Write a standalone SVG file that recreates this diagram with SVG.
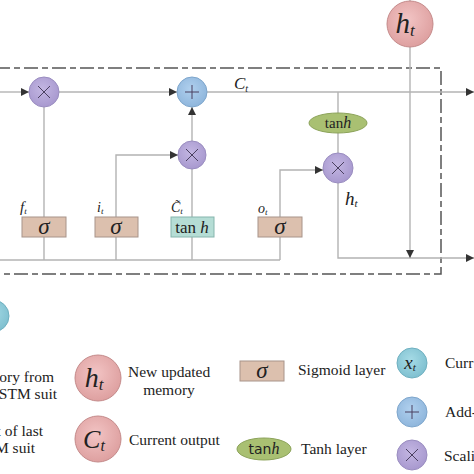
<svg xmlns="http://www.w3.org/2000/svg" width="474" height="474" viewBox="0 0 474 474">
<style>
.ln{fill:none;stroke:#b3b3b3;stroke-width:1.4}
.dash{fill:none;stroke:#555;stroke-width:1.5;stroke-dasharray:14 4 6 4}
.mul{fill:url(#gMul);stroke:#9a8dc0;stroke-width:1}
.add{fill:url(#gAdd);stroke:#7ea6cc;stroke-width:1}
.pink{fill:url(#gPink);stroke:#c48a8a;stroke-width:1}
.teal{fill:url(#gTeal);stroke:#6fb0c0;stroke-width:1}
.sig{fill:#dcc0ae;stroke:#a8948a;stroke-width:1}
.tb{fill:#b5ddd5;stroke:#86b5ad;stroke-width:1}
.el{fill:#a9c072;stroke:#8ca35a;stroke-width:1}
.op{fill:none;stroke:#4a4060;stroke-width:1}
.serif{font-family:"Liberation Serif","DejaVu Serif",serif;fill:#222}
.it{font-style:italic}
.lg{font-family:"Liberation Serif","DejaVu Serif",serif;font-size:15.5px;fill:#222}
</style>
<defs>
<marker id="ah" viewBox="0 0 8 8" refX="8" refY="4" markerWidth="8" markerHeight="8" markerUnits="userSpaceOnUse" orient="auto">
<path d="M0,0 L8,4 L0,8 z" fill="#333"/>
</marker>
<radialGradient id="gMul" cx="0.45" cy="0.4" r="0.6"><stop offset="0" stop-color="#c3b6e2"/><stop offset="1" stop-color="#a899cf"/></radialGradient>
<radialGradient id="gAdd" cx="0.45" cy="0.4" r="0.6"><stop offset="0" stop-color="#b0d0ee"/><stop offset="1" stop-color="#8fb6dc"/></radialGradient>
<radialGradient id="gPink" cx="0.45" cy="0.4" r="0.6"><stop offset="0" stop-color="#f2c4c4"/><stop offset="1" stop-color="#dea0a0"/></radialGradient>
<radialGradient id="gTeal" cx="0.45" cy="0.4" r="0.6"><stop offset="0" stop-color="#a6dbe6"/><stop offset="1" stop-color="#7fc0d0"/></radialGradient>
</defs>

<rect width="474" height="474" fill="#fff"/>

<path class="dash" d="M-4,68 H441 V274 H-4"/>

<g id="connectors">
<path class="ln" d="M0,92 H29" marker-end="url(#ah)"/>
<path class="ln" d="M59,92 H177" marker-end="url(#ah)"/>
<path class="ln" d="M207,92 H474" marker-end="url(#ah)"/>
<path class="ln" d="M44,107 V260"/>
<path class="ln" d="M0,260 H280"/>
<path class="ln" d="M116,260 V155 H178" marker-end="url(#ah)"/>
<path class="ln" d="M192,260 V169"/>
<path class="ln" d="M192,141 V107" marker-end="url(#ah)"/>
<path class="ln" d="M280,260 V170 H323" marker-end="url(#ah)"/>
<path class="ln" d="M338,92 V153"/>
<path class="ln" d="M338,183 V258 H474" marker-end="url(#ah)"/>
<path class="ln" d="M410,0 V2"/>
<path class="ln" d="M410,47 V258" marker-end="url(#ah)"/>
</g>

<g id="mul1"><circle class="mul" cx="44" cy="92" r="15"/><path class="op" d="M38,86 L50,98 M50,86 L38,98"/></g>
<g id="add1"><circle class="add" cx="192" cy="92" r="15"/><path class="op" d="M185,92 H199 M192,85 V99"/></g>
<g id="mul2"><circle class="mul" cx="192" cy="155" r="14"/><path class="op" d="M186,149 L198,161 M198,149 L186,161"/></g>
<g id="mul3"><circle class="mul" cx="338" cy="168" r="15"/><path class="op" d="M332,162 L344,174 M344,162 L332,174"/></g>

<g id="tanh-ellipse"><ellipse class="el" cx="338" cy="123" rx="29" ry="10"/>
<text class="serif" x="338" y="128" text-anchor="middle" font-size="15">tan<tspan class="it" font-size="16">h</tspan></text></g>

<g id="ht-top"><circle class="pink" cx="410" cy="24" r="23"/>
<text class="serif it" x="405" y="33" text-anchor="middle" font-size="29">h<tspan font-size="17" dy="3">t</tspan></text></g>

<g id="sig-f"><rect class="sig" x="22" y="217" width="44" height="20"/><text class="serif it" x="44" y="234" text-anchor="middle" font-size="23">σ</text></g>
<g id="sig-i"><rect class="sig" x="95" y="217" width="43" height="20"/><text class="serif it" x="116" y="234" text-anchor="middle" font-size="23">σ</text></g>
<g id="tanh-box"><rect class="tb" x="171" y="217" width="43" height="20"/><text class="serif" x="192" y="233" text-anchor="middle" font-size="17">tan <tspan class="it">h</tspan></text></g>
<g id="sig-o"><rect class="sig" x="258" y="217" width="44" height="20"/><text class="serif it" x="280" y="234" text-anchor="middle" font-size="23">σ</text></g>

<g id="labels">
<text class="serif it" x="234" y="89" font-size="17">C<tspan font-size="10" dy="3">t</tspan></text>
<text class="serif it" x="20" y="212" font-size="15">f<tspan font-size="9" dy="2">t</tspan></text>
<text class="serif it" x="97" y="212" font-size="14">i<tspan font-size="9" dy="2">t</tspan></text>
<text class="serif it" x="171" y="212" font-size="14">C̃<tspan font-size="9" dy="2">t</tspan></text>
<text class="serif it" x="258" y="213" font-size="14">o<tspan font-size="9" dy="2">t</tspan></text>
<text class="serif it" x="345" y="205" font-size="19">h<tspan font-size="11" dy="2">t</tspan></text>
</g>

<g id="legend">
<g id="lg-teal-partial"><circle class="teal" cx="-7" cy="316" r="16"/></g>
<text class="lg" x="54" y="382" text-anchor="end">ory from</text>
<text class="lg" x="57" y="399" text-anchor="end">STM suit</text>
<text class="lg" x="43" y="436" text-anchor="end">t of last</text>
<text class="lg" x="35" y="453" text-anchor="end">M suit</text>

<g id="lg-ht"><circle class="pink" cx="98" cy="378" r="23"/><text class="serif it" x="94" y="387" text-anchor="middle" font-size="28">h<tspan font-size="17" dy="3">t</tspan></text></g>
<text class="lg" x="128" y="377">New updated</text>
<text class="lg" x="169" y="395" text-anchor="middle">memory</text>

<g id="lg-ct"><circle class="pink" cx="98" cy="439" r="23"/><text class="serif it" x="94" y="448" text-anchor="middle" font-size="26">C<tspan font-size="16" dy="3">t</tspan></text></g>
<text class="lg" x="129" y="445">Current output</text>

<g id="lg-sig"><rect class="sig" x="240" y="361" width="44" height="20"/><text class="serif it" x="262" y="378" text-anchor="middle" font-size="23">σ</text></g>
<text class="lg" x="298" y="375">Sigmoid layer</text>

<g id="lg-tanh"><ellipse class="el" cx="264" cy="449" rx="27" ry="11"/>
<text x="264" y="454" text-anchor="middle" font-size="14"><tspan font-family="'DejaVu Sans',sans-serif" fill="#222">tan</tspan><tspan class="serif it" font-size="16">h</tspan></text></g>
<text class="lg" x="301" y="454">Tanh layer</text>

<g id="lg-xt"><circle class="teal" cx="412" cy="363" r="15"/><text class="serif it" x="410" y="369" text-anchor="middle" font-size="19">x<tspan font-size="11" dy="2">t</tspan></text></g>
<text class="lg" x="445" y="368">Curr</text>

<g id="lg-add"><circle class="add" cx="412" cy="412" r="15"/><path class="op" d="M405,412 H419 M412,405 V419"/></g>
<text class="lg" x="445" y="417">Add-</text>

<g id="lg-mul"><circle class="mul" cx="412" cy="455" r="15"/><path class="op" d="M406,449 L418,461 M418,449 L406,461"/></g>
<text class="lg" x="444" y="461">Scali</text>
</g>
</svg>
